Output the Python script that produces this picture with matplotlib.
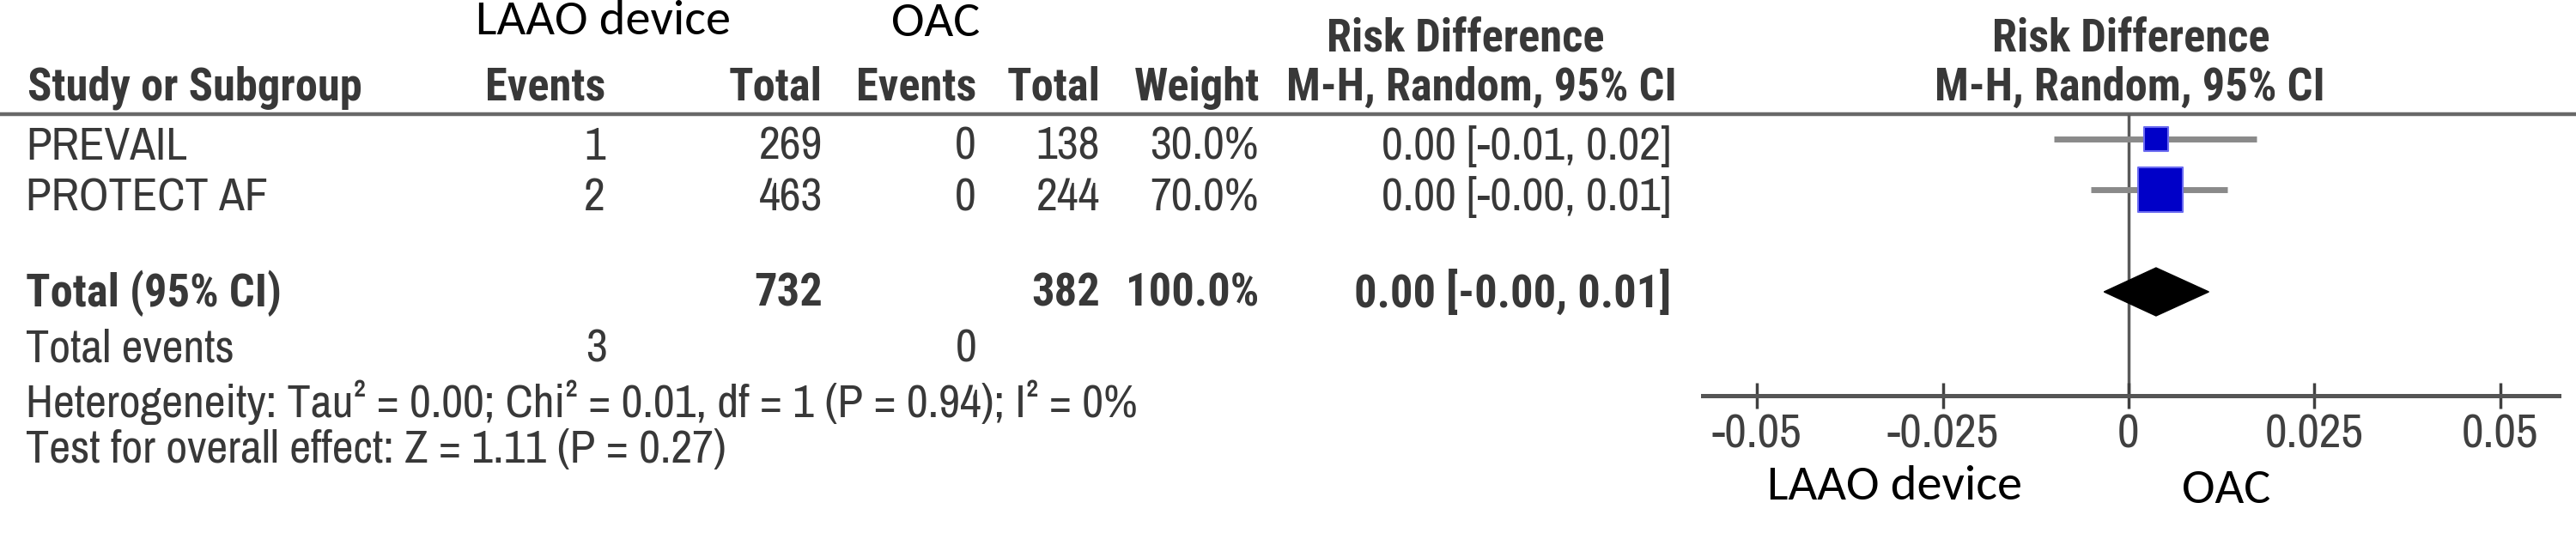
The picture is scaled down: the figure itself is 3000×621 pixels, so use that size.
import matplotlib
matplotlib.use('Agg')
import matplotlib.pyplot as plt
from matplotlib import font_manager
from matplotlib.patches import Polygon

# study rows
studies = ['PREVAIL', 'PROTECT AF']
laao_events = [1, 2]
laao_total = [269, 463]
oac_events = [0, 0]
oac_total = [138, 244]
weights = [30.0, 70.0]
rd = [0.0037, 0.0043]
ci_low = [-0.0100, -0.0051]
ci_high = [0.0172, 0.0133]
ci_text = ['0.00 [-0.01, 0.02]', '0.00 [-0.00, 0.01]']

# pooled result
total_laao = 732
total_oac = 382
total_events_laao = 3
total_events_oac = 0
pooled_rd = 0.0037
pooled_low = -0.0033
pooled_high = 0.0108
pooled_text = '0.00 [-0.00, 0.01]'
heterogeneity = 'Heterogeneity: Tau\u00b2 = 0.00; Chi\u00b2 = 0.01, df = 1 (P = 0.94); I\u00b2 = 0%'
overall = 'Test for overall effect: Z = 1.11 (P = 0.27)'

xticks = [-0.05, -0.025, 0, 0.025, 0.05]
xtick_labels = ['-0.05', '-0.025', '0', '0.025', '0.05']

# condensed Arial-like font, one that also has a real bold face
weights_by_name = {}
for f in font_manager.fontManager.ttflist:
    w = f.weight if isinstance(f.weight, int) else (700 if f.weight == 'bold' else 400)
    weights_by_name.setdefault(f.name, set()).add(w)
candidates = ['Liberation Sans Narrow', 'Arial Narrow', 'Archivo Narrow', 'Roboto Condensed',
              'Fira Sans Condensed', 'IBM Plex Sans Condensed', 'PT Sans Narrow',
              'Encode Sans Condensed', 'Asap Condensed', 'Barlow Semi Condensed']
narrow = next((c for c in candidates if c in weights_by_name), 'Liberation Sans')
narrow_b = next((c for c in candidates if c in weights_by_name and max(weights_by_name[c]) >= 700),
                'Liberation Sans')
label_font = next((c for c in ['Carlito', 'Calibri', 'Lato'] if c in weights_by_name), 'DejaVu Sans')
txt = '#383838'

fig = plt.figure(figsize=(30, 6.21), dpi=100)
ax = fig.add_axes([0, 0, 1, 1])
ax.set_xlim(0, 3000)
ax.set_ylim(621, 0)
ax.axis('off')
renderer = fig.canvas.get_renderer()

# pick font sizes so that a few reference strings get their measured pixel widths
def fit(s, width, family, bold=False):
    t = ax.text(0, 0, s, fontsize=40, family=family, fontweight='bold' if bold else 'normal')
    w = t.get_window_extent(renderer).width
    t.remove()
    return 40 * width / w

fs = fit(overall, 815, narrow)
fs_b = fit('Study or Subgroup', 389, narrow_b, bold=True)
fs_tick = fit('-0.025', 130, narrow)
fs_lab = fit('LAAO device', 297, label_font)

def put(x, y, s, ha='right', bold=False, size=None, color=txt, family=None):
    if size is None:
        size = fs_b if bold else fs
    if family is None:
        family = narrow_b if bold else narrow
    ax.text(x, y, s, ha=ha, va='center', fontsize=size, color=color,
            fontweight='bold' if bold else 'normal', family=family)

# group labels above the table
put(703, 24, 'LAAO device', ha='center', size=fs_lab, color='black', family=label_font)
put(1090, 26, 'OAC', ha='center', size=fs_lab, color='black', family=label_font)

# column headers
put(1707, 45, 'Risk Difference', ha='center', bold=True)
put(2482, 45, 'Risk Difference', ha='center', bold=True)
hy = 102
put(32, hy, 'Study or Subgroup', ha='left', bold=True)
put(705, hy, 'Events', bold=True)
put(958, hy, 'Total', bold=True)
put(1137, hy, 'Events', bold=True)
put(1281, hy, 'Total', bold=True)
put(1467, hy, 'Weight', bold=True)
put(1725, hy, 'M-H, Random, 95% CI', ha='center', bold=True)
put(2480, hy, 'M-H, Random, 95% CI', ha='center', bold=True)
ax.axhline(133, color='#686868', lw=3.2)

row_y = [171, 230]
for i, y in enumerate(row_y):
    put(30, y, studies[i], ha='left')
    put(705, y, str(laao_events[i]))
    put(958, y, str(laao_total[i]))
    put(1137, y, str(oac_events[i]))
    put(1281, y, str(oac_total[i]))
    put(1466, y, f'{weights[i]:.1f}%')
    put(1946, y, ci_text[i])

ty = 342
put(30, ty, 'Total (95% CI)', ha='left', bold=True)
put(958, ty, str(total_laao), bold=True)
put(1281, ty, str(total_oac), bold=True)
put(1466, ty, '100.0%', bold=True)
put(1946, ty, pooled_text, bold=True)

put(30, 407, 'Total events', ha='left')
put(707, 407, str(total_events_laao))
put(1138, 407, str(total_events_oac))
put(30, 469, heterogeneity, ha='left')
put(30, 524, overall, ha='left')

# forest panel
fa = fig.add_axes([1983 / 3000, 0, (2980 - 1983) / 3000, 1])
fa.set_xlim(-0.0573, 0.0579)
fa.set_ylim(621, 0)
fa.patch.set_alpha(0)
for side in ['top', 'left', 'right']:
    fa.spines[side].set_visible(False)
fa.spines['bottom'].set_position(('data', 461))
fa.spines['bottom'].set_linewidth(3.6)
fa.spines['bottom'].set_color('#555555')
fa.set_yticks([])
fa.set_xticks(xticks)
fa.set_xticklabels(xtick_labels, fontsize=fs_tick, color='#404040', family=narrow)
fa.tick_params(axis='x', direction='inout', length=22, width=2.5, color='#404040', pad=4)

fa.vlines(0, 133, 461, color='#5a5a5a', lw=2.5, zorder=1)

mark_y = [y - 9 for y in row_y]
for i, y in enumerate(mark_y):
    fa.plot([ci_low[i], ci_high[i]], [y, y], color='#8a8a8a', lw=5, solid_capstyle='butt', zorder=2)
    side = (10 + 0.6 * weights[i]) * 72 / 100
    fa.scatter([rd[i]], [y], marker='s', s=side ** 2, color='#0000c8',
               edgecolors='#6a6af0', linewidths=1.5, zorder=3)

dy = 340
dh = 28
fa.add_patch(Polygon([[pooled_low, dy], [pooled_rd, dy - dh], [pooled_high, dy], [pooled_rd, dy + dh]],
                     closed=True, color='black', zorder=3))

put(2206, 567, 'LAAO device', ha='center', size=fs_lab, color='black', family=label_font)
put(2593, 571, 'OAC', ha='center', size=fs_lab, color='black', family=label_font)

fig.savefig('out.png', dpi=100, facecolor='white')
